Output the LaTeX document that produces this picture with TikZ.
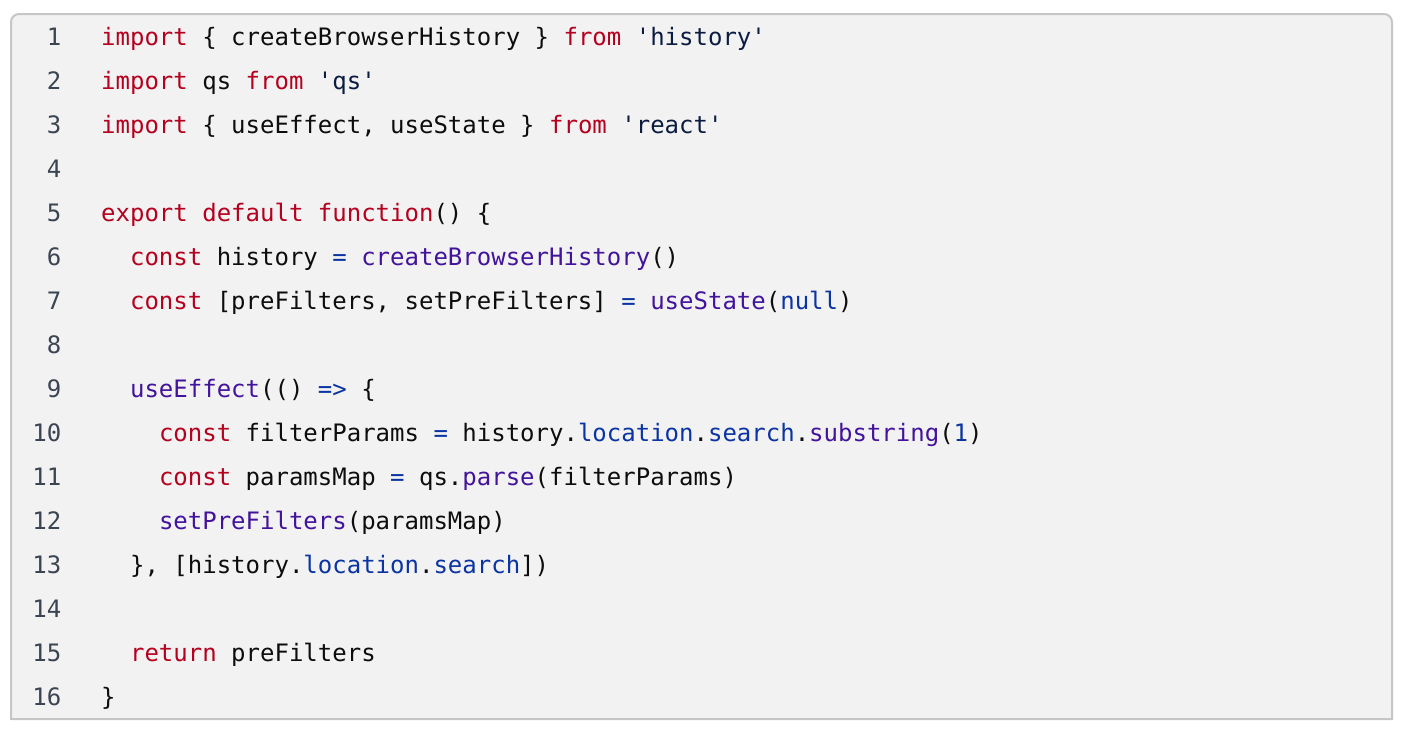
\documentclass[tikz,border=0pt]{standalone}
\usepackage{fontspec}
\setmonofont{DejaVu Sans Mono}
\definecolor{boxfill}{HTML}{F2F2F2}
\definecolor{boxline}{HTML}{C6C6C6}
\definecolor{numgray}{HTML}{3B4452}
\definecolor{kwred}{HTML}{B5001E}
\definecolor{strnavy}{HTML}{0B1C40}
\definecolor{fnpurple}{HTML}{42139C}
\definecolor{propblue}{HTML}{0A33A3}
\definecolor{plain}{HTML}{0D0D0D}
\newcommand{\kwd}[1]{\textcolor{kwred}{#1}}
\newcommand{\strg}[1]{\textcolor{strnavy}{\textquotesingle #1\textquotesingle}}
\newcommand{\fnc}[1]{\textcolor{fnpurple}{#1}}
\newcommand{\prp}[1]{\textcolor{propblue}{#1}}
\tikzset{
  lineno/.style={anchor=base east, inner sep=0pt, text=numgray, font=\ttfamily\fontsize{24}{24}\selectfont},
  code/.style={anchor=base west, inner sep=0pt, text=plain, font=\ttfamily\fontsize{24}{24}\selectfont},
}
\begin{document}
\begin{tikzpicture}[x=1pt, y=-1pt]
  \useasboundingbox (0,0) rectangle (1402,731);
  \filldraw[fill=boxfill, draw=boxline, line width=2pt]
    (11,719) -- (11,300) [rounded corners=8pt] -- (11,14) -- (1392,14) -- (1392,300)
    [sharp corners] -- (1392,719) -- cycle;
  % line numbers
  \foreach \i in {1,...,16}
    \node[lineno] (n\i) at (61.5,{45+44*(\i-1)}) {\i};
  % code, one node per line; indent steps of 2 chars
  \def\cw{14.45}
  \node[code] (l1) at (101,45) {\kwd{import} \{ createBrowserHistory \} \kwd{from} \strg{history}};
  \node[code] (l2) at (101,89) {\kwd{import} qs \kwd{from} \strg{qs}};
  \node[code] (l3) at (101,133) {\kwd{import} \{ useEffect, useState \} \kwd{from} \strg{react}};
  \node[code] (l5) at (101,221) {\kwd{export} \kwd{default} \kwd{function}() \{};
  \node[code] (l6) at ({101+2*\cw},265) {\kwd{const} history \prp{=} \fnc{createBrowserHistory}()};
  \node[code] (l7) at ({101+2*\cw},309) {\kwd{const} [preFilters, setPreFilters] \prp{=} \fnc{useState}(\prp{null})};
  \node[code] (l9) at ({101+2*\cw},397) {\fnc{useEffect}(() \prp{=>} \{};
  \node[code] (l10) at ({101+4*\cw},441) {\kwd{const} filterParams \prp{=} history.\prp{location}.\prp{search}.\fnc{substring}(\prp{1})};
  \node[code] (l11) at ({101+4*\cw},485) {\kwd{const} paramsMap \prp{=} qs.\fnc{parse}(filterParams)};
  \node[code] (l12) at ({101+4*\cw},529) {\fnc{setPreFilters}(paramsMap)};
  \node[code] (l13) at ({101+2*\cw},573) {\}, [history.\prp{location}.\prp{search}])};
  \node[code] (l15) at ({101+2*\cw},661) {\kwd{return} preFilters};
  \node[code] (l16) at (101,705) {\}};
\end{tikzpicture}
\end{document}
